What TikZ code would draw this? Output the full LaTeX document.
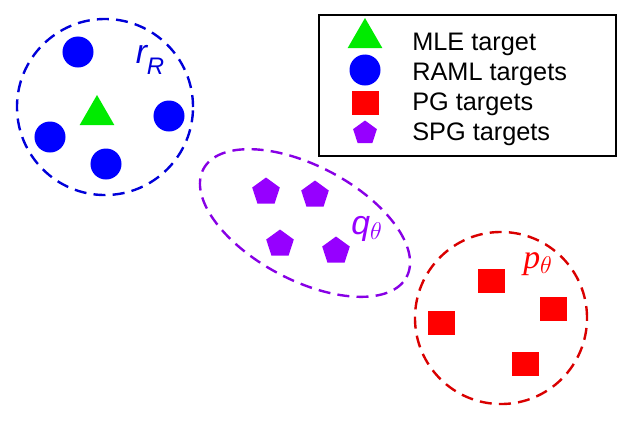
\documentclass[tikz,border=0pt]{standalone}
\usepackage{fontspec}
\setmainfont{Liberation Sans}
\newfontfamily\serifit{Liberation Serif}
\usetikzlibrary{shapes}
\definecolor{ramlblue}{RGB}{0,0,255}
\definecolor{mlegreen}{RGB}{0,235,0}
\definecolor{pgred}{RGB}{255,0,0}
\definecolor{spgpurple}{RGB}{150,0,255}
\tikzstyle{cluster} = [circle, draw, dash pattern=on 3mm off 1.8mm, line width=0.6mm, inner sep=0pt]
\tikzstyle{raml} = [circle, fill=ramlblue, minimum size=7.75mm, inner sep=0pt]
\tikzstyle{mle} = [regular polygon, regular polygon sides=3, fill=mlegreen, minimum size=10mm, inner sep=0pt]
\tikzstyle{pg} = [rectangle, fill=pgred, minimum width=6.75mm, minimum height=6mm, inner sep=0pt]
\tikzstyle{spg} = [regular polygon, regular polygon sides=5, fill=spgpurple, minimum size=7.25mm, inner sep=0pt]
\tikzstyle{entry} = [anchor=base west, inner sep=0pt, font=\fontsize{18}{20}\selectfont]
\tikzstyle{tag} = [inner sep=0pt, font=\fontsize{24}{26}\selectfont]

\begin{document}
\begin{tikzpicture}[x=0.025cm,y=-0.025cm]
					\useasboundingbox (0,0) rectangle (630,422);
					% reward distribution r_R
					\node[cluster,draw=ramlblue!85!black,minimum size=44mm] (rR) at (105,107) {};
					\node[raml] (r1) at (78,52) {};
					\node[raml] (r2) at (169,116) {};
					\node[raml] (r3) at (50,137) {};
					\node[raml] (r4) at (106,164) {};
					\node[mle] (mle) at (97,115) {};
					\node[tag,text=ramlblue!85!black] (rRlabel) at (150,60) {\itshape r\raisebox{-0.35em}{\fontsize{17}{17}\selectfont R}};
					% model distribution q_theta
					\node[ellipse,draw=spgpurple!90!black,dash pattern=on 3mm off 1.8mm,line width=0.6mm,minimum width=57.5mm,minimum height=28.5mm,rotate=-28] (q) at (305,223) {};
					\node[spg] (s1) at (266,192) {};
					\node[spg] (s2) at (315,195) {};
					\node[spg] (s3) at (280,244) {};
					\node[spg] (s4) at (336,251) {};
					\node[tag,text=spgpurple] (qlabel) at (367,229) {\itshape q$_\theta$};
					% model distribution p_theta
					\node[cluster,draw=pgred!85!black,minimum size=43mm] (p) at (501,318) {};
					\node[pg] (p1) at (491,281) {};
					\node[pg] (p2) at (553,309) {};
					\node[pg] (p3) at (441,323) {};
					\node[pg] (p4) at (525,364) {};
					\node[tag,text=pgred] (plabel) at (538,264) {\serifit\itshape p$_\theta$};
					% legend
					\node[draw,line width=0.55mm,minimum width=74.25mm,minimum height=35.25mm,inner sep=0pt] (legend) at (467.5,85.5) {};
					\node[mle] (lmle) at (365,38) {};
					\node[raml] (lraml) at (365,70) {};
					\node[pg] (lpg) at (365,103) {};
					\node[spg,minimum size=6.25mm] (lspg) at (365,133) {};
					\node[entry] (tmle) at (412,50) {MLE target};
					\node[entry] (traml) at (412,80) {RAML targets};
					\node[entry] (tpg) at (412,110) {PG targets};
					\node[entry] (tspg) at (412,140) {SPG targets};
				\end{tikzpicture}
\end{document}
